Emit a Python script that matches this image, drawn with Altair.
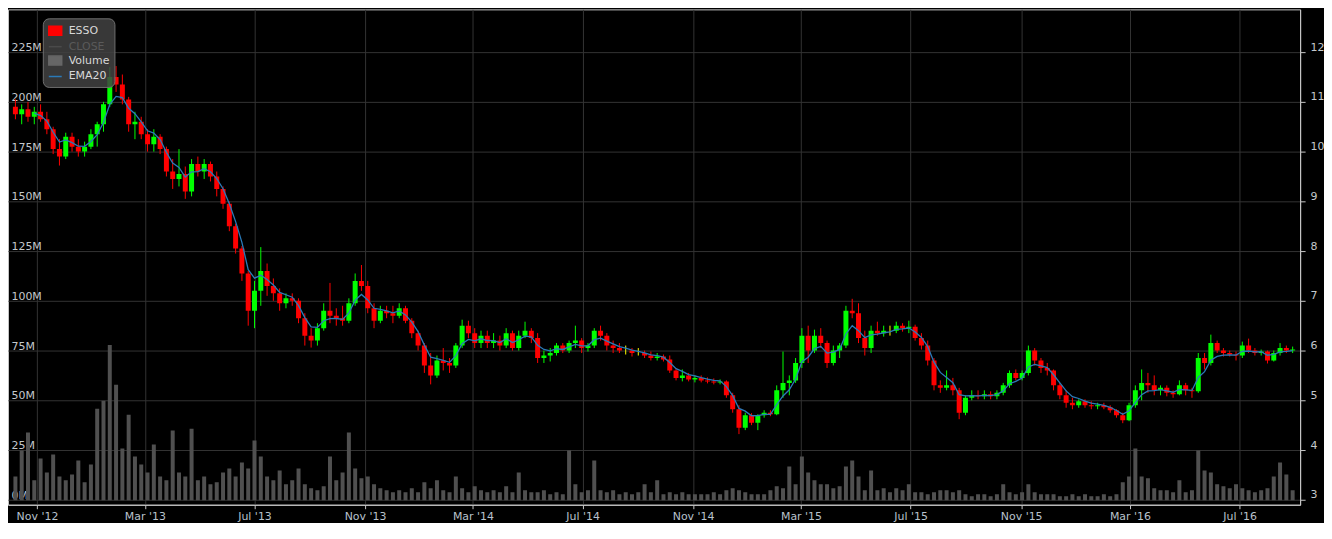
import altair as alt
import pandas as pd

# ---------------- data (weekly candles) ----------------
first_week = "2012-10-08"

opens = [
    10.90, 10.75, 10.85, 10.70, 10.80, 10.65, 10.45, 10.05, 9.90, 10.30,
    10.10, 10.00, 10.10, 10.35, 10.55, 10.95, 11.50, 11.35, 11.05, 10.55,
    10.60, 10.35, 10.15, 10.30, 10.05, 9.60, 9.45, 9.55, 9.20, 9.75,
    9.60, 9.75, 9.50, 9.25, 8.95, 8.50, 8.05, 7.55, 6.80, 7.20,
    7.60, 7.30, 7.15, 6.95, 7.05, 7.00, 6.65, 6.30, 6.20, 6.45,
    6.80, 6.70, 6.65, 6.60, 6.95, 7.40, 7.30, 6.85, 6.60, 6.80,
    6.75, 6.70, 6.85, 6.60, 6.35, 6.10, 5.70, 5.50, 5.80, 5.75,
    5.70, 6.10, 6.50, 6.35, 6.15, 6.30, 6.15, 6.20, 6.10, 6.35,
    6.05, 6.30, 6.40, 6.25, 5.85, 5.90, 5.95, 6.10, 6.00, 6.15,
    6.20, 6.05, 6.10, 6.40, 6.30, 6.10, 6.05, 6.00, 6.00, 5.95,
    5.95, 5.90, 5.85, 5.88, 5.82, 5.60, 5.45, 5.50, 5.42, 5.45,
    5.40, 5.38, 5.36, 5.38, 5.10, 4.82, 4.45, 4.70, 4.55, 4.70,
    4.75, 4.72, 5.20, 5.35, 5.40, 5.75, 6.30, 6.00, 6.30, 6.15,
    5.75, 6.00, 6.10, 6.80, 6.75, 6.25, 6.05, 6.40, 6.35, 6.40,
    6.40, 6.50, 6.45, 6.48, 6.25, 6.10, 5.80, 5.30, 5.25, 5.30,
    5.20, 4.75, 5.05, 5.10, 5.08, 5.12, 5.08, 5.15, 5.30, 5.55,
    5.45, 5.55, 6.00, 5.80, 5.65, 5.60, 5.30, 5.10, 4.95, 4.90,
    4.98, 4.90, 4.88, 4.90, 4.86, 4.80, 4.70, 4.60, 4.90, 5.20,
    5.35, 5.30, 5.20, 5.25, 5.15, 5.12, 5.30, 5.20, 5.18, 5.85,
    5.75, 6.15, 6.00, 5.95, 5.92, 5.90, 6.10, 6.00, 5.95, 5.98,
    5.80, 5.95, 6.05, 6.00,
]
highs = [
    11.05, 10.95, 11.00, 10.90, 10.95, 10.80, 10.50, 10.25, 10.38, 10.38,
    10.25, 10.20, 10.45, 10.60, 11.00, 11.70, 11.72, 11.55, 11.10, 10.80,
    10.70, 10.45, 10.45, 10.35, 10.10, 9.85, 10.05, 9.70, 9.85, 9.90,
    9.85, 9.80, 9.60, 9.30, 9.00, 8.55, 8.10, 7.60, 7.40, 8.08,
    7.75, 7.45, 7.25, 7.15, 7.15, 7.05, 6.75, 6.45, 6.55, 6.95,
    7.36, 6.85, 6.90, 7.05, 7.55, 7.72, 7.40, 6.95, 6.90, 6.90,
    6.90, 6.95, 6.90, 6.65, 6.40, 6.15, 5.95, 5.90, 6.05, 5.85,
    6.15, 6.62, 6.60, 6.45, 6.40, 6.40, 6.35, 6.30, 6.45, 6.40,
    6.40, 6.58, 6.45, 6.35, 6.00, 6.05, 6.15, 6.15, 6.20, 6.50,
    6.25, 6.15, 6.45, 6.50, 6.35, 6.20, 6.15, 6.10, 6.05, 6.05,
    6.00, 5.98, 5.95, 5.92, 5.90, 5.65, 5.62, 5.55, 5.50, 5.50,
    5.46, 5.44, 5.42, 5.40, 5.15, 4.90, 4.75, 4.74, 4.72, 4.80,
    4.80, 5.30, 5.98, 5.50, 5.85, 6.45, 6.50, 6.42, 6.45, 6.20,
    6.10, 6.15, 6.90, 7.04, 6.95, 6.40, 6.50, 6.58, 6.50, 6.50,
    6.58, 6.55, 6.60, 6.52, 6.35, 6.20, 5.85, 5.40, 5.60, 5.45,
    5.25, 5.10, 5.20, 5.20, 5.20, 5.18, 5.20, 5.35, 5.60, 5.62,
    5.60, 6.10, 6.05, 5.85, 5.75, 5.62, 5.35, 5.20, 5.05, 5.02,
    5.02, 4.98, 4.95, 4.95, 4.90, 4.82, 4.75, 4.95, 5.30, 5.62,
    5.55, 5.50, 5.30, 5.30, 5.20, 5.40, 5.35, 5.25, 5.95, 5.95,
    6.32, 6.20, 6.05, 6.00, 5.98, 6.18, 6.24, 6.05, 6.02, 6.00,
    6.00, 6.15, 6.10, 6.08,
]
lows = [
    10.65, 10.55, 10.60, 10.55, 10.60, 10.35, 9.95, 9.72, 9.85, 10.00,
    9.90, 9.90, 10.05, 10.10, 10.40, 10.90, 11.20, 10.95, 10.40, 10.25,
    10.25, 10.00, 10.00, 9.95, 9.50, 9.25, 9.30, 9.05, 9.10, 9.50,
    9.45, 9.40, 9.10, 8.85, 8.40, 7.95, 7.40, 6.50, 6.45, 6.90,
    7.10, 7.00, 6.80, 6.85, 6.90, 6.55, 6.10, 6.06, 6.10, 6.40,
    6.55, 6.50, 6.50, 6.55, 6.90, 7.20, 6.75, 6.45, 6.55, 6.65,
    6.55, 6.65, 6.55, 6.25, 6.00, 5.55, 5.32, 5.45, 5.60, 5.55,
    5.65, 6.05, 6.25, 6.05, 6.05, 6.05, 6.05, 6.00, 6.05, 6.00,
    6.00, 6.25, 6.15, 5.75, 5.75, 5.78, 5.90, 5.95, 5.95, 6.05,
    5.95, 5.98, 6.05, 6.20, 6.00, 5.95, 5.95, 5.92, 5.88, 5.90,
    5.85, 5.80, 5.80, 5.78, 5.55, 5.40, 5.38, 5.38, 5.36, 5.36,
    5.34, 5.32, 5.32, 5.05, 4.75, 4.32, 4.40, 4.50, 4.40, 4.65,
    4.68, 4.70, 5.05, 5.10, 5.35, 5.65, 5.75, 5.95, 6.05, 5.65,
    5.70, 5.85, 6.05, 6.65, 6.15, 5.90, 5.95, 6.30, 6.28, 6.30,
    6.35, 6.38, 6.35, 6.20, 6.02, 5.70, 5.20, 5.15, 5.20, 5.10,
    4.62, 4.70, 5.00, 5.02, 5.02, 5.02, 5.02, 5.10, 5.25, 5.40,
    5.40, 5.50, 5.70, 5.55, 5.50, 5.20, 5.02, 4.85, 4.82, 4.85,
    4.85, 4.82, 4.82, 4.82, 4.75, 4.65, 4.54, 4.58, 4.85, 5.00,
    5.15, 5.10, 5.10, 5.08, 5.05, 5.10, 5.10, 5.05, 5.15, 5.62,
    5.70, 5.95, 5.88, 5.88, 5.80, 5.85, 5.95, 5.90, 5.90, 5.74,
    5.78, 5.90, 5.95, 5.95,
]
closes = [
    10.75, 10.85, 10.70, 10.80, 10.65, 10.45, 10.05, 9.90, 10.30, 10.10,
    10.00, 10.10, 10.35, 10.55, 10.95, 11.50, 11.35, 11.05, 10.55, 10.60,
    10.35, 10.15, 10.30, 10.05, 9.60, 9.45, 9.55, 9.20, 9.75, 9.60,
    9.75, 9.50, 9.25, 8.95, 8.50, 8.05, 7.55, 6.80, 7.20, 7.60,
    7.30, 7.15, 6.95, 7.05, 7.00, 6.65, 6.30, 6.20, 6.45, 6.80,
    6.70, 6.65, 6.60, 6.95, 7.40, 7.30, 6.85, 6.60, 6.80, 6.75,
    6.70, 6.85, 6.60, 6.35, 6.10, 5.70, 5.50, 5.80, 5.75, 5.70,
    6.10, 6.50, 6.35, 6.15, 6.30, 6.15, 6.20, 6.10, 6.35, 6.05,
    6.30, 6.40, 6.25, 5.85, 5.90, 5.95, 6.10, 6.00, 6.15, 6.20,
    6.05, 6.10, 6.40, 6.30, 6.10, 6.05, 6.00, 6.00, 5.95, 5.95,
    5.90, 5.85, 5.88, 5.82, 5.60, 5.45, 5.50, 5.42, 5.45, 5.40,
    5.38, 5.36, 5.38, 5.10, 4.82, 4.45, 4.70, 4.55, 4.70, 4.75,
    4.72, 5.20, 5.35, 5.40, 5.75, 6.30, 6.00, 6.30, 6.15, 5.75,
    6.00, 6.10, 6.80, 6.75, 6.25, 6.05, 6.40, 6.35, 6.40, 6.40,
    6.50, 6.45, 6.48, 6.25, 6.10, 5.80, 5.30, 5.25, 5.30, 5.20,
    4.75, 5.05, 5.10, 5.08, 5.12, 5.08, 5.15, 5.30, 5.55, 5.45,
    5.55, 6.00, 5.80, 5.65, 5.60, 5.30, 5.10, 4.95, 4.90, 4.98,
    4.90, 4.88, 4.90, 4.86, 4.80, 4.70, 4.60, 4.90, 5.20, 5.35,
    5.30, 5.20, 5.25, 5.15, 5.12, 5.30, 5.20, 5.18, 5.85, 5.75,
    6.15, 6.00, 5.95, 5.92, 5.90, 6.10, 6.00, 5.95, 5.98, 5.80,
    5.95, 6.05, 6.00, 6.02,
]
volumes_m = [
    12, 25, 34, 10, 21, 14, 23, 12, 10, 13,
    20, 9, 18, 46, 50, 78, 58, 26, 43, 22,
    18, 14, 28, 12, 10, 35, 14, 12, 36, 10,
    12, 8, 9, 14, 16, 12, 19, 16, 30, 22,
    12, 10, 15, 8, 10, 16, 8, 6, 5, 7,
    22, 10, 14, 34, 16, 11, 12, 8, 6, 5,
    4, 5, 4, 6, 4, 9, 6, 10, 5, 4,
    12, 6, 4, 7, 5, 4, 5, 4, 7, 4,
    14, 5, 4, 4, 5, 3, 4, 3, 25, 8,
    4, 5, 20, 5, 4, 5, 3, 4, 3, 4,
    8, 4, 10, 3, 4, 3, 4, 3, 3, 3,
    3, 4, 3, 5, 6, 5, 4, 3, 3, 3,
    5, 7, 6, 17, 8, 22, 14, 10, 8, 8,
    6, 7, 17, 20, 12, 5, 15, 5, 6, 4,
    6, 5, 8, 4, 4, 3, 4, 5, 5, 4,
    5, 3, 2, 3, 3, 2, 3, 8, 4, 3,
    4, 8, 4, 3, 3, 3, 2, 2, 3, 2,
    3, 2, 2, 3, 2, 3, 9, 12, 26, 12,
    11, 6, 5, 5, 4, 10, 4, 5, 25, 15,
    14, 8, 7, 6, 8, 6, 5, 4, 5, 6,
    12, 19, 13, 5,
]

legend_items = ["ESSO", "CLOSE", "Volume", "EMA20"]
legend_colors = ["#ff0000", "#4a4a4a", "#666666", "#2a7ab8"]
rect_path = "M-1,-0.7L1,-0.7L1,0.7L-1,0.7Z"
legend_shapes = [rect_path, "stroke", rect_path, "stroke"]

price_ticks = [3, 4, 5, 6, 7, 8, 9, 10, 11, 12]
volume_ticks = [0, 25, 50, 75, 100, 125, 150, 175, 200, 225]
month_ticks = [(2012, 11), (2013, 3), (2013, 7), (2013, 11), (2014, 3), (2014, 7),
               (2014, 11), (2015, 3), (2015, 7), (2015, 11), (2016, 3), (2016, 7)]

# ---------------- table ----------------
dates = pd.date_range(first_week, periods=len(closes), freq="7D")
ema = pd.Series(closes).ewm(span=4, adjust=False).mean()
ema.iloc[:3] = None
df = pd.DataFrame({
    "date": dates.strftime("%Y-%m-%d"),
    "open": opens, "high": highs, "low": lows, "close": closes,
    "volume": volumes_m, "ema": ema,
})

# ---------------- styling ----------------
GRID = "#333333"
AXIS = "#c8c8c8"
LABEL = "#c4c8cc"
FONT = "DejaVu Sans"

x_scale = alt.Scale(
    type="utc",
    domain=[alt.DateTime(year=2012, month=10, date=5, hours=7, utc=True),
            alt.DateTime(year=2016, month=8, date=31, hours=19, utc=True)],
)
x_axis = alt.Axis(
    values=[alt.DateTime(year=y, month=m, date=1, utc=True) for y, m in month_ticks],
    format="%b '%y", title=None, grid=True, gridColor=GRID, gridWidth=1,
    domainColor=AXIS, tickColor=AXIS, tickSize=4, labelPadding=2,
    labelColor="#b8c2cc", labelFontSize=11, labelFont=FONT, labelOverlap=False,
    labelFlush=False,
)
X = alt.X("date:T", scale=x_scale, axis=x_axis)

price_scale = alt.Scale(domain=[2.9, 12.86], nice=False, zero=False)
price_axis = alt.Axis(
    orient="right", values=price_ticks, format="d", title=None,
    grid=True, gridColor=GRID, gridWidth=1, domainColor=AXIS, tickColor=AXIS,
    tickSize=5, labelPadding=5, labelColor=LABEL, labelFontSize=11, labelFont=FONT,
    labelBaseline="alphabetic", labelOffset=-2, labelOverlap=False, labelFlush=False,
)
vol_scale = alt.Scale(domain=[-2.25, 246.75], nice=False, zero=False)
vol_axis = alt.Axis(
    orient="left", values=volume_ticks, labelExpr="datum.value + 'M'", title=None,
    grid=False, domain=False, ticks=False, tickSize=0, labelPadding=-3,
    labelAlign="left", labelBaseline="alphabetic", labelOffset=-2,
    labelColor=LABEL, labelFontSize=11, labelFont=FONT, labelOverlap=False,
    labelFlush=False, zindex=0,
)

base = alt.Chart(df).transform_calculate(
    dir="datum.close > datum.open ? 'up' : (datum.close < datum.open ? 'down' : 'flat')"
)
candle_color = alt.Color(
    "dir:N",
    scale=alt.Scale(domain=["up", "down", "flat"], range=["#00ff00", "#ff0000", "#ffff00"]),
    legend=None,
)

volume = alt.Chart(df).mark_bar(size=4, color="#505050", clip=True).encode(
    x=X,
    y=alt.Y("volume:Q", scale=vol_scale, axis=vol_axis),
    y2=alt.datum(0),
)

wick = base.mark_rule(strokeWidth=1, clip=True).encode(
    x=X, y=alt.Y("low:Q", scale=price_scale, axis=price_axis), y2="high:Q",
    color=candle_color,
)
body = base.mark_bar(size=5, clip=True).encode(
    x=X, y=alt.Y("open:Q", scale=price_scale, axis=price_axis), y2="close:Q",
    color=candle_color,
)
ema_line = alt.Chart(df).mark_line(color="#2a7ab8", strokeWidth=1.3, clip=True).encode(
    x=X, y=alt.Y("ema:Q", scale=price_scale, axis=price_axis),
)

legend_def = alt.Legend(
    title=None, orient="none", legendX=35, legendY=9,
    fillColor="rgba(66,66,66,0.85)", strokeColor="#6e6e6e", cornerRadius=6,
    padding=5, rowPadding=0, symbolSize=169, symbolStrokeWidth=1.5,
    symbolOpacity=1, labelOffset=6, labelFontSize=11, labelFont=FONT,
    labelColor=alt.ExprRef(expr="datum.label == 'CLOSE' ? '#5a5a5a' : '#d8d8d8'"),
)
legend_df = pd.DataFrame({"series": legend_items})
legend_layer = alt.Chart(legend_df).mark_point(filled=True, opacity=0).encode(
    fill=alt.Fill("series:N", scale=alt.Scale(domain=legend_items, range=legend_colors),
                  legend=legend_def),
    stroke=alt.Stroke("series:N", scale=alt.Scale(domain=legend_items, range=legend_colors),
                      legend=legend_def),
    shape=alt.Shape("series:N", scale=alt.Scale(domain=legend_items, range=legend_shapes),
                    legend=legend_def),
)

price_group = alt.layer(wick, body, ema_line, legend_layer)

chart = (
    alt.layer(volume, price_group)
    .resolve_scale(y="independent")
    .properties(width=1299, height=498, padding=0, background="#000000")
    .configure(font=FONT)
    .configure_view(stroke=AXIS, strokeWidth=1)
)

chart.save("out.html", embed_options={"renderer": "svg", "actions": False})
